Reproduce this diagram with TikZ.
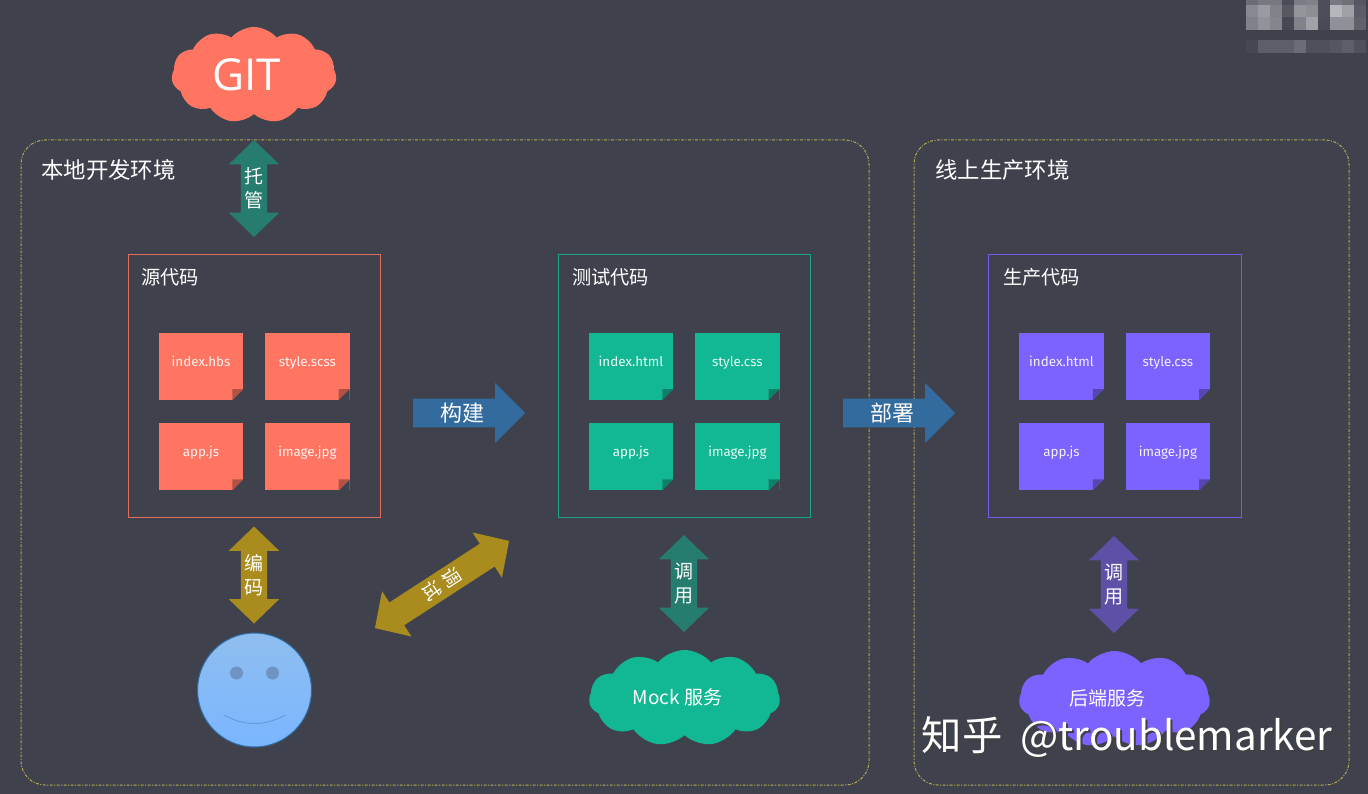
\documentclass[tikz,border=0pt]{standalone}
\usepackage{fontspec}
\setmainfont{Noto Sans CJK SC}
\newfontfamily\notefont{Fira Sans}
\newfontfamily\gitfont{Open Sans}
\usepackage{xcolor}
\usetikzlibrary{arrows.meta,positioning,calc,shapes.arrows,shapes.symbols}
\definecolor{bgdark}{HTML}{3F424D}
\definecolor{panelline}{HTML}{B8A850}
\definecolor{srcred}{HTML}{FF7562}
\definecolor{testgreen}{HTML}{12B894}
\definecolor{prodpurple}{HTML}{7C62FF}
\definecolor{tealarrow}{HTML}{267C6E}
\definecolor{goldarrow}{HTML}{A98B1E}
\definecolor{bluearrow}{HTML}{336B9F}
\definecolor{violetarrow}{HTML}{5E50A6}
\definecolor{facetop}{HTML}{8FBEEF}
\definecolor{facebottom}{HTML}{7AB6FF}
\definecolor{faceedge}{HTML}{2F6DA5}
\definecolor{faceeye}{HTML}{6F94C4}
\definecolor{facesmile}{HTML}{5F9AD6}

\begin{document}
\begin{tikzpicture}[
  x=1pt,y=-1pt,
  node distance=23pt and 21.5pt,
  panel/.style={draw=panelline,rounded corners=24pt,line width=1pt,dash pattern=on 3pt off 1.5pt on 1pt off 1.5pt,minimum height=645pt},
  panellabel/.style={text=white,font=\fontsize{22.4}{26}\selectfont,anchor=west,inner sep=0pt},
  codebox/.style={draw=#1!85!bgdark,line width=1pt,minimum width=252.5pt,minimum height=262pt},
  boxlabel/.style={text=white,font=\fontsize{19.2}{23}\selectfont,anchor=west,inner sep=0pt},
  stickynote/.style={fill=#1,text=white!90!#1,font=\notefont\fontsize{13.4}{17}\selectfont,minimum width=84.5pt,minimum height=67pt,inner sep=0pt,text height=10pt,text depth=10pt,
    path picture={
      \fill[bgdark] (path picture bounding box.south east) ++(-11,0) -- ++(11,-11) -- ++(0,11) -- cycle;
      \fill[#1!70!black] (path picture bounding box.south east) ++(-11,0) -- ++(11,-11) -- ++(-11,0) -- cycle;
    }},
  twoway/.style={double arrow,shape border rotate=90,fill=#1,text=white,align=center,inner sep=3.5pt,minimum width=50pt,minimum height=97pt,
    double arrow tip angle=92,double arrow head extend=12pt,font=\fontsize{19}{24}\selectfont},
  oneway/.style={single arrow,fill=bluearrow,text=white,inner sep=3pt,minimum width=60pt,minimum height=112pt,
    single arrow tip angle=90,single arrow head extend=14.5pt,font=\fontsize{22}{26}\selectfont},
  puffs/.style={cloud,cloud puffs=11,cloud puff arc=100,aspect=2,fill=#1,text=white,inner sep=0pt}
]
\path[fill=bgdark,use as bounding box] (0,0) rectangle (1368,794);

% blurred corner
\foreach \ya/\yb/\vals in {0/5/{23,29,29,6,31,34,7,29,25,11},5/17/{38,47,34,12,44,40,7,62,50,14},17/30/{34,43,36,3,34,51,5,42,42,17},40/53/{3,15,15,15,23,8,8,11,15,8}}
  \foreach \p [count=\i from 0] in \vals
    \fill[white!\p!bgdark] ({1246+12*\i},\ya) rectangle ({1258+12*\i},\yb);

\node[panel,minimum width=848pt] (localenv) at (445,462.5) {};
\node[panel,minimum width=435pt] (onlineenv) at (1131.5,462.5) {};
\node[panellabel] (locallabel) at (41,170) {本地开发环境};
\node[panellabel] (onlinelabel) at (935,170) {线上生产环境};

\node[puffs=srcred,minimum width=165pt,minimum height=96pt,font=\gitfont\fontsize{44}{50}\selectfont] (git) at (254,75) {GIT\hspace*{14pt}};

% code boxes
\node[codebox=srcred] (src) at (254.5,386) {};
\node[codebox=testgreen,right=176.5pt of src] (test) {};
\node[codebox=prodpurple,right=177pt of test] (prod) {};
\node[boxlabel] (srclabel) at (141,277) {源代码};
\node[boxlabel] (testlabel) at (572,277) {测试代码};
\node[boxlabel] (prodlabel) at (1003,277) {生产代码};

\node[stickynote=srcred] (srcindex) at (201,366.5) {index.hbs};
\node[stickynote=srcred,right=of srcindex] (srcstyle) {style.scss};
\node[stickynote=srcred,below=of srcindex] (srcapp) {app.js};
\node[stickynote=srcred,right=of srcapp] (srcimage) {image.jpg};

\node[stickynote=testgreen] (testindex) at (631,366.5) {index.html};
\node[stickynote=testgreen,right=of testindex] (teststyle) {style.css};
\node[stickynote=testgreen,below=of testindex] (testapp) {app.js};
\node[stickynote=testgreen,right=of testapp] (testimage) {image.jpg};

\node[stickynote=prodpurple] (prodindex) at (1061.5,366.5) {index.html};
\node[stickynote=prodpurple,right=of prodindex] (prodstyle) {style.css};
\node[stickynote=prodpurple,below=of prodindex] (prodapp) {app.js};
\node[stickynote=prodpurple,right=of prodapp] (prodimage) {image.jpg};

% arrows
\node[twoway=tealarrow] (hosting) at (254,188.5) {托\\管};
\node[twoway=goldarrow] (coding) at (254,575) {编\\码};
\node[twoway=goldarrow,rotate=-57,minimum height=160pt,minimum width=54pt,double arrow head extend=13pt] (debugging) at (442,584.5) {调\\试};
\node[twoway=tealarrow] (mockcall) at (684,583.5) {调\\用};
\node[twoway=violetarrow] (backcall) at (1114,584.5) {调\\用};
\node[oneway] (building) at (462,413) {构建};
\node[oneway] (deploying) at (892,413) {部署};

% developer
\node[circle,draw=faceedge,line width=1pt,top color=facetop,bottom color=facebottom,minimum size=114pt] (face) at (254.5,690) {};
\node[circle,fill=faceeye,minimum size=13pt,inner sep=0pt] (lefteye) at ($(face)+(-18,-17)$) {};
\node[circle,fill=faceeye,minimum size=13pt,inner sep=0pt] (righteye) at ($(face)+(18,-17)$) {};
\coordinate (smileleft) at ($(face)+(-31,25)$);
\coordinate (smileright) at ($(face)+(31,25)$);
\draw[facesmile,line width=.8pt] (smileleft) to[bend right=28] (smileright);

% services
\node[puffs=testgreen,minimum width=191pt,minimum height=96pt,font=\fontsize{19}{23}\selectfont] (mock) at (684.5,698) {\raisebox{2pt}{Mock 服务}\hspace*{14pt}};
\node[puffs=prodpurple,minimum width=191pt,minimum height=96pt,font=\fontsize{19}{23}\selectfont] (backend) at (1114.5,699) {\raisebox{2pt}{后端服务}\hspace*{14pt}};

\node[text=black!75,font=\fontsize{40.4}{46}\selectfont,inner sep=0pt] (wmshadow) at (1129,739) {知乎\hspace{18pt}@troublemarker};
\node[text=white,font=\fontsize{40.4}{46}\selectfont,inner sep=0pt] (wmark) at (1127,737) {知乎\hspace{18pt}@troublemarker};
\end{tikzpicture}
\end{document}
